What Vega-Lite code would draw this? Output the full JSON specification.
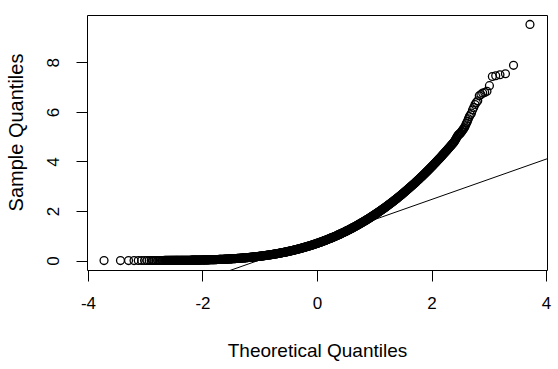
{
"$schema": "https://vega.github.io/schema/vega-lite/v6.json",
"width": 460, "height": 255,
"autosize": {"type": "none"},
"padding": {"left": 87, "top": 15, "right": 11, "bottom": 99},
"background": "white",
"config": {"view": {"stroke": "black", "strokeWidth": 1}, "font": "Liberation Sans"},
"datasets": {
"qq": [
{"theoretical":-3.719,"sample":0.0002},{"theoretical":-3.432,"sample":0.0004},{"theoretical":-3.291,"sample":0.0006},{"theoretical":-3.195,"sample":0.0008},{"theoretical":-3.121,"sample":0.001},{"theoretical":-3.062,"sample":0.0012},{"theoretical":-3.011,"sample":0.0014},{"theoretical":-2.968,"sample":0.0016},{"theoretical":-2.929,"sample":0.0018},{"theoretical":-2.894,"sample":0.002},
{"theoretical":-2.863,"sample":0.0022},{"theoretical":-2.834,"sample":0.0024},{"theoretical":-2.807,"sample":0.0026},{"theoretical":-2.782,"sample":0.0028},{"theoretical":-2.759,"sample":0.003},{"theoretical":-2.737,"sample":0.0032},{"theoretical":-2.716,"sample":0.0034},{"theoretical":-2.697,"sample":0.0036},{"theoretical":-2.678,"sample":0.0038},{"theoretical":-2.661,"sample":0.004},
{"theoretical":-2.644,"sample":0.0042},{"theoretical":-2.628,"sample":0.0044},{"theoretical":-2.612,"sample":0.0046},{"theoretical":-2.598,"sample":0.0048},{"theoretical":-2.583,"sample":0.005},{"theoretical":-2.569,"sample":0.0052},{"theoretical":-2.556,"sample":0.0054},{"theoretical":-2.543,"sample":0.0056},{"theoretical":-2.531,"sample":0.0058},{"theoretical":-2.519,"sample":0.006},
{"theoretical":-2.507,"sample":0.0062},{"theoretical":-2.496,"sample":0.0064},{"theoretical":-2.484,"sample":0.0066},{"theoretical":-2.473,"sample":0.0068},{"theoretical":-2.463,"sample":0.007},{"theoretical":-2.453,"sample":0.0072},{"theoretical":-2.443,"sample":0.0074},{"theoretical":-2.432,"sample":0.0076},{"theoretical":-2.423,"sample":0.0078},{"theoretical":-2.413,"sample":0.008},
{"theoretical":-2.40,"sample":0.0082},{"theoretical":-2.38,"sample":0.0087},{"theoretical":-2.36,"sample":0.0092},{"theoretical":-2.34,"sample":0.0097},{"theoretical":-2.32,"sample":0.0102},{"theoretical":-2.30,"sample":0.0108},{"theoretical":-2.28,"sample":0.0114},{"theoretical":-2.26,"sample":0.012},{"theoretical":-2.24,"sample":0.0126},{"theoretical":-2.22,"sample":0.0133},
{"theoretical":-2.20,"sample":0.014},{"theoretical":-2.18,"sample":0.0147},{"theoretical":-2.16,"sample":0.0155},{"theoretical":-2.14,"sample":0.0163},{"theoretical":-2.12,"sample":0.0171},{"theoretical":-2.10,"sample":0.018},{"theoretical":-2.08,"sample":0.0189},{"theoretical":-2.06,"sample":0.0199},{"theoretical":-2.04,"sample":0.0209},{"theoretical":-2.02,"sample":0.0219},
{"theoretical":-2.00,"sample":0.023},{"theoretical":-1.98,"sample":0.0242},{"theoretical":-1.96,"sample":0.0253},{"theoretical":-1.94,"sample":0.0265},{"theoretical":-1.92,"sample":0.0278},{"theoretical":-1.90,"sample":0.0291},{"theoretical":-1.88,"sample":0.0306},{"theoretical":-1.86,"sample":0.0319},{"theoretical":-1.84,"sample":0.0335},{"theoretical":-1.82,"sample":0.035},
{"theoretical":-1.80,"sample":0.0366},{"theoretical":-1.78,"sample":0.0382},{"theoretical":-1.76,"sample":0.04},{"theoretical":-1.74,"sample":0.0418},{"theoretical":-1.72,"sample":0.0436},{"theoretical":-1.70,"sample":0.0456},{"theoretical":-1.68,"sample":0.0476},{"theoretical":-1.66,"sample":0.0497},{"theoretical":-1.64,"sample":0.0518},{"theoretical":-1.62,"sample":0.054},
{"theoretical":-1.60,"sample":0.0564},{"theoretical":-1.58,"sample":0.0588},{"theoretical":-1.56,"sample":0.0612},{"theoretical":-1.54,"sample":0.0638},{"theoretical":-1.52,"sample":0.0664},{"theoretical":-1.50,"sample":0.0691},{"theoretical":-1.48,"sample":0.0719},{"theoretical":-1.46,"sample":0.0748},{"theoretical":-1.44,"sample":0.0779},{"theoretical":-1.42,"sample":0.081},
{"theoretical":-1.40,"sample":0.0843},{"theoretical":-1.38,"sample":0.0875},{"theoretical":-1.36,"sample":0.0909},{"theoretical":-1.34,"sample":0.0944},{"theoretical":-1.32,"sample":0.0981},{"theoretical":-1.30,"sample":0.1018},{"theoretical":-1.28,"sample":0.1057},{"theoretical":-1.26,"sample":0.1096},{"theoretical":-1.24,"sample":0.1137},{"theoretical":-1.22,"sample":0.1179},
{"theoretical":-1.20,"sample":0.1223},{"theoretical":-1.18,"sample":0.1268},{"theoretical":-1.16,"sample":0.1313},{"theoretical":-1.14,"sample":0.1359},{"theoretical":-1.12,"sample":0.1409},{"theoretical":-1.10,"sample":0.1458},{"theoretical":-1.08,"sample":0.1509},{"theoretical":-1.06,"sample":0.1562},{"theoretical":-1.04,"sample":0.1616},{"theoretical":-1.02,"sample":0.1671},
{"theoretical":-1.00,"sample":0.1728},{"theoretical":-0.98,"sample":0.1785},{"theoretical":-0.96,"sample":0.1845},{"theoretical":-0.94,"sample":0.1906},{"theoretical":-0.92,"sample":0.197},{"theoretical":-0.90,"sample":0.2035},{"theoretical":-0.88,"sample":0.21},{"theoretical":-0.86,"sample":0.2168},{"theoretical":-0.84,"sample":0.2238},{"theoretical":-0.82,"sample":0.2307},
{"theoretical":-0.80,"sample":0.238},{"theoretical":-0.78,"sample":0.2454},{"theoretical":-0.76,"sample":0.253},{"theoretical":-0.74,"sample":0.2608},{"theoretical":-0.72,"sample":0.2689},{"theoretical":-0.70,"sample":0.2771},{"theoretical":-0.68,"sample":0.2854},{"theoretical":-0.66,"sample":0.2938},{"theoretical":-0.64,"sample":0.3026},{"theoretical":-0.62,"sample":0.3114},
{"theoretical":-0.60,"sample":0.3206},{"theoretical":-0.58,"sample":0.3299},{"theoretical":-0.56,"sample":0.3392},{"theoretical":-0.54,"sample":0.349},{"theoretical":-0.52,"sample":0.3588},{"theoretical":-0.50,"sample":0.3689},{"theoretical":-0.48,"sample":0.3792},{"theoretical":-0.46,"sample":0.3898},{"theoretical":-0.44,"sample":0.4005},{"theoretical":-0.42,"sample":0.4113},
{"theoretical":-0.40,"sample":0.4225},{"theoretical":-0.38,"sample":0.4339},{"theoretical":-0.36,"sample":0.4453},{"theoretical":-0.34,"sample":0.4571},{"theoretical":-0.32,"sample":0.4692},{"theoretical":-0.30,"sample":0.4814},{"theoretical":-0.28,"sample":0.4938},{"theoretical":-0.26,"sample":0.5065},{"theoretical":-0.24,"sample":0.5195},{"theoretical":-0.22,"sample":0.5325},
{"theoretical":-0.20,"sample":0.5459},{"theoretical":-0.18,"sample":0.5596},{"theoretical":-0.16,"sample":0.5734},{"theoretical":-0.14,"sample":0.5875},{"theoretical":-0.12,"sample":0.6018},{"theoretical":-0.10,"sample":0.6166},{"theoretical":-0.08,"sample":0.6313},{"theoretical":-0.06,"sample":0.6464},{"theoretical":-0.04,"sample":0.6616},{"theoretical":-0.02,"sample":0.6773},
{"theoretical":0.00,"sample":0.6931},
{"theoretical":0.02,"sample":0.7093},{"theoretical":0.04,"sample":0.7257},{"theoretical":0.06,"sample":0.7421},{"theoretical":0.08,"sample":0.759},{"theoretical":0.10,"sample":0.7761},{"theoretical":0.12,"sample":0.7936},{"theoretical":0.14,"sample":0.8112},{"theoretical":0.16,"sample":0.8292},{"theoretical":0.18,"sample":0.8472},{"theoretical":0.20,"sample":0.8658},
{"theoretical":0.22,"sample":0.8845},{"theoretical":0.24,"sample":0.9033},{"theoretical":0.26,"sample":0.9228},{"theoretical":0.28,"sample":0.9423},{"theoretical":0.30,"sample":0.9621},{"theoretical":0.32,"sample":0.9822},{"theoretical":0.34,"sample":1.0027},{"theoretical":0.36,"sample":1.0233},{"theoretical":0.38,"sample":1.0441},{"theoretical":0.40,"sample":1.0654},
{"theoretical":0.42,"sample":1.0871},{"theoretical":0.44,"sample":1.1087},{"theoretical":0.46,"sample":1.1308},{"theoretical":0.48,"sample":1.1533},{"theoretical":0.50,"sample":1.1761},{"theoretical":0.52,"sample":1.199},{"theoretical":0.54,"sample":1.2222},{"theoretical":0.56,"sample":1.2459},{"theoretical":0.58,"sample":1.2694},{"theoretical":0.60,"sample":1.2935},
{"theoretical":0.62,"sample":1.3183},{"theoretical":0.64,"sample":1.3429},{"theoretical":0.66,"sample":1.3681},{"theoretical":0.68,"sample":1.3932},{"theoretical":0.70,"sample":1.4188},{"theoretical":0.72,"sample":1.4448},{"theoretical":0.74,"sample":1.4714},{"theoretical":0.76,"sample":1.4979},{"theoretical":0.78,"sample":1.5246},{"theoretical":0.80,"sample":1.5516},
{"theoretical":0.82,"sample":1.5794},{"theoretical":0.84,"sample":1.6069},{"theoretical":0.86,"sample":1.6353},{"theoretical":0.88,"sample":1.6639},{"theoretical":0.90,"sample":1.6923},{"theoretical":0.92,"sample":1.7215},{"theoretical":0.94,"sample":1.751},{"theoretical":0.96,"sample":1.7808},{"theoretical":0.98,"sample":1.8109},{"theoretical":1.00,"sample":1.8407},
{"theoretical":1.02,"sample":1.8714},{"theoretical":1.04,"sample":1.9024},{"theoretical":1.06,"sample":1.9337},{"theoretical":1.08,"sample":1.9653},{"theoretical":1.10,"sample":1.9973},{"theoretical":1.12,"sample":2.0295},{"theoretical":1.14,"sample":2.0627},{"theoretical":1.16,"sample":2.0956},{"theoretical":1.18,"sample":2.1286},{"theoretical":1.20,"sample":2.1619},
{"theoretical":1.22,"sample":2.1964},{"theoretical":1.24,"sample":2.2302},{"theoretical":1.26,"sample":2.2653},{"theoretical":1.28,"sample":2.2996},{"theoretical":1.30,"sample":2.3351},{"theoretical":1.32,"sample":2.3708},{"theoretical":1.34,"sample":2.4068},{"theoretical":1.36,"sample":2.443},{"theoretical":1.38,"sample":2.4793},{"theoretical":1.40,"sample":2.5158},
{"theoretical":1.42,"sample":2.5536},{"theoretical":1.44,"sample":2.5916},{"theoretical":1.46,"sample":2.6297},{"theoretical":1.48,"sample":2.6679},{"theoretical":1.50,"sample":2.706},{"theoretical":1.52,"sample":2.7442},{"theoretical":1.54,"sample":2.7838},{"theoretical":1.56,"sample":2.8234},{"theoretical":1.58,"sample":2.8629},{"theoretical":1.60,"sample":2.904},
{"theoretical":1.62,"sample":2.945},{"theoretical":1.64,"sample":2.9857},{"theoretical":1.66,"sample":3.0262},{"theoretical":1.68,"sample":3.0683},{"theoretical":1.70,"sample":3.11},{"theoretical":1.72,"sample":3.1535},{"theoretical":1.74,"sample":3.1966},{"theoretical":1.76,"sample":3.239},{"theoretical":1.78,"sample":3.2834},{"theoretical":1.80,"sample":3.327},
{"theoretical":1.82,"sample":3.3697},{"theoretical":1.84,"sample":3.4143},{"theoretical":1.86,"sample":3.4609},{"theoretical":1.88,"sample":3.5032},{"theoretical":1.90,"sample":3.5508},{"theoretical":1.92,"sample":3.5972},{"theoretical":1.94,"sample":3.642},{"theoretical":1.96,"sample":3.6889},{"theoretical":1.98,"sample":3.7339},{"theoretical":2.00,"sample":3.7832},
{"theoretical":2.02,"sample":3.831},{"theoretical":2.04,"sample":3.8786},{"theoretical":2.06,"sample":3.9272},{"theoretical":2.08,"sample":3.9761},{"theoretical":2.10,"sample":4.0252},{"theoretical":2.12,"sample":4.0745},{"theoretical":2.14,"sample":4.124},{"theoretical":2.16,"sample":4.174},{"theoretical":2.18,"sample":4.2247},{"theoretical":2.20,"sample":4.2759},
{"theoretical":2.22,"sample":4.3268},{"theoretical":2.24,"sample":4.378},{"theoretical":2.26,"sample":4.4304},{"theoretical":2.28,"sample":4.483},{"theoretical":2.30,"sample":4.5357},{"theoretical":2.32,"sample":4.5884},{"theoretical":2.34,"sample":4.6419},{"theoretical":2.36,"sample":4.6951},{"theoretical":2.38,"sample":4.7491},{"theoretical":2.40,"sample":4.8037},
{"theoretical":2.413,"sample":4.86},{"theoretical":2.423,"sample":4.9},{"theoretical":2.432,"sample":4.94},{"theoretical":2.443,"sample":4.98},{"theoretical":2.453,"sample":5.02},{"theoretical":2.463,"sample":5.06},{"theoretical":2.473,"sample":5.08},{"theoretical":2.484,"sample":5.1},{"theoretical":2.496,"sample":5.12},{"theoretical":2.507,"sample":5.15},
{"theoretical":2.519,"sample":5.19},{"theoretical":2.531,"sample":5.22},{"theoretical":2.543,"sample":5.27},{"theoretical":2.556,"sample":5.3},{"theoretical":2.569,"sample":5.35},{"theoretical":2.583,"sample":5.4},{"theoretical":2.598,"sample":5.48},{"theoretical":2.612,"sample":5.55},{"theoretical":2.628,"sample":5.62},{"theoretical":2.644,"sample":5.72},
{"theoretical":2.661,"sample":5.81},{"theoretical":2.678,"sample":5.88},{"theoretical":2.697,"sample":5.95},{"theoretical":2.716,"sample":6.08},{"theoretical":2.737,"sample":6.18},{"theoretical":2.759,"sample":6.3},{"theoretical":2.782,"sample":6.38},{"theoretical":2.807,"sample":6.45},{"theoretical":2.834,"sample":6.65},{"theoretical":2.863,"sample":6.7},
{"theoretical":2.894,"sample":6.76},{"theoretical":2.929,"sample":6.78},{"theoretical":2.968,"sample":6.83},{"theoretical":3.011,"sample":7.06},{"theoretical":3.062,"sample":7.43},{"theoretical":3.121,"sample":7.46},{"theoretical":3.195,"sample":7.5},{"theoretical":3.291,"sample":7.54},{"theoretical":3.432,"sample":7.88},{"theoretical":3.719,"sample":9.53},
{"theoretical":0.01,"sample":0.7012},{"theoretical":0.03,"sample":0.7174},{"theoretical":0.05,"sample":0.7337},{"theoretical":0.07,"sample":0.7505},{"theoretical":0.09,"sample":0.7676},{"theoretical":0.11,"sample":0.7848},{"theoretical":0.13,"sample":0.8022},{"theoretical":0.15,"sample":0.82},{"theoretical":0.17,"sample":0.8381},{"theoretical":0.19,"sample":0.8563},
{"theoretical":0.21,"sample":0.8751},{"theoretical":0.23,"sample":0.894},{"theoretical":0.25,"sample":0.913},{"theoretical":0.27,"sample":0.9324},{"theoretical":0.29,"sample":0.9521},{"theoretical":0.31,"sample":0.9721},{"theoretical":0.33,"sample":0.9924},{"theoretical":0.35,"sample":1.0128},{"theoretical":0.37,"sample":1.0337},{"theoretical":0.39,"sample":1.0547},
{"theoretical":0.41,"sample":1.0762},{"theoretical":0.43,"sample":1.0978},{"theoretical":0.45,"sample":1.1197},{"theoretical":0.47,"sample":1.1419},{"theoretical":0.49,"sample":1.1645},{"theoretical":0.51,"sample":1.1875},{"theoretical":0.53,"sample":1.2104},{"theoretical":0.55,"sample":1.2338},{"theoretical":0.57,"sample":1.2578},{"theoretical":0.59,"sample":1.2816},
{"theoretical":0.61,"sample":1.306},{"theoretical":0.63,"sample":1.3307},{"theoretical":0.65,"sample":1.3556},{"theoretical":0.67,"sample":1.3807},{"theoretical":0.69,"sample":1.4061},{"theoretical":0.71,"sample":1.4317},{"theoretical":0.73,"sample":1.458},{"theoretical":0.75,"sample":1.4846},{"theoretical":0.77,"sample":1.5114},{"theoretical":0.79,"sample":1.538},
{"theoretical":0.81,"sample":1.5654},{"theoretical":0.83,"sample":1.593},{"theoretical":0.85,"sample":1.621},{"theoretical":0.87,"sample":1.6492},{"theoretical":0.89,"sample":1.6782},{"theoretical":0.91,"sample":1.7071},{"theoretical":0.93,"sample":1.7361},{"theoretical":0.95,"sample":1.7655},{"theoretical":0.97,"sample":1.7958},{"theoretical":0.99,"sample":1.8258},
{"theoretical":1.01,"sample":1.8566},{"theoretical":1.03,"sample":1.8872},{"theoretical":1.05,"sample":1.918},{"theoretical":1.07,"sample":1.9498},{"theoretical":1.09,"sample":1.9812},{"theoretical":1.11,"sample":2.0136},{"theoretical":1.13,"sample":2.0464},{"theoretical":1.15,"sample":2.0786},{"theoretical":1.17,"sample":2.112},{"theoretical":1.19,"sample":2.1456},
{"theoretical":1.21,"sample":2.1795},{"theoretical":1.23,"sample":2.2137},{"theoretical":1.25,"sample":2.2481},{"theoretical":1.27,"sample":2.2828},{"theoretical":1.29,"sample":2.3177},{"theoretical":1.31,"sample":2.3528},{"theoretical":1.33,"sample":2.3882},{"theoretical":1.35,"sample":2.4248},{"theoretical":1.37,"sample":2.4616},{"theoretical":1.39,"sample":2.4974},
{"theoretical":1.41,"sample":2.5345},{"theoretical":1.43,"sample":2.5718},{"theoretical":1.45,"sample":2.6105},{"theoretical":1.47,"sample":2.6479},{"theoretical":1.49,"sample":2.6868},{"theoretical":1.51,"sample":2.7257},{"theoretical":1.53,"sample":2.7646},{"theoretical":1.55,"sample":2.8035},{"theoretical":1.57,"sample":2.8439},{"theoretical":1.59,"sample":2.8842},
{"theoretical":1.61,"sample":2.9244},{"theoretical":1.63,"sample":2.9643},{"theoretical":1.65,"sample":3.0058},{"theoretical":1.67,"sample":3.047},{"theoretical":1.69,"sample":3.09},{"theoretical":1.71,"sample":3.1327},{"theoretical":1.73,"sample":3.1749},{"theoretical":1.75,"sample":3.2164},{"theoretical":1.77,"sample":3.2597},{"theoretical":1.79,"sample":3.305},
{"theoretical":1.81,"sample":3.3496},{"theoretical":1.83,"sample":3.3932},{"theoretical":1.85,"sample":3.4358},{"theoretical":1.87,"sample":3.4835},{"theoretical":1.89,"sample":3.5268},{"theoretical":1.91,"sample":3.572},{"theoretical":1.93,"sample":3.6194},{"theoretical":1.95,"sample":3.6652},{"theoretical":1.97,"sample":3.7132},{"theoretical":1.99,"sample":3.7593},
{"theoretical":2.01,"sample":3.8067},{"theoretical":2.03,"sample":3.8546},{"theoretical":2.05,"sample":3.903},{"theoretical":2.07,"sample":3.9512},{"theoretical":2.09,"sample":4.0003},{"theoretical":2.11,"sample":4.0496},{"theoretical":2.13,"sample":4.099},{"theoretical":2.15,"sample":4.149},{"theoretical":2.17,"sample":4.1997},{"theoretical":2.19,"sample":4.2503},
{"theoretical":2.21,"sample":4.3014},{"theoretical":2.23,"sample":4.3529},{"theoretical":2.25,"sample":4.4047},{"theoretical":2.27,"sample":4.4568},{"theoretical":2.29,"sample":4.509},{"theoretical":2.31,"sample":4.5621},{"theoretical":2.33,"sample":4.6152},{"theoretical":2.35,"sample":4.6681},{"theoretical":2.37,"sample":4.7228},{"theoretical":2.39,"sample":4.7772},
{"theoretical":-0.01,"sample":0.6852},{"theoretical":-0.03,"sample":0.6694},{"theoretical":-0.05,"sample":0.6541},{"theoretical":-0.07,"sample":0.6388},{"theoretical":-0.09,"sample":0.6238},{"theoretical":-0.11,"sample":0.6092},{"theoretical":-0.13,"sample":0.5947},{"theoretical":-0.15,"sample":0.5805},{"theoretical":-0.17,"sample":0.5665},{"theoretical":-0.19,"sample":0.5529},
{"theoretical":-0.21,"sample":0.5392},{"theoretical":-0.23,"sample":0.5259},{"theoretical":-0.25,"sample":0.513},{"theoretical":-0.27,"sample":0.5002},{"theoretical":-0.29,"sample":0.4876},{"theoretical":-0.31,"sample":0.4753},{"theoretical":-0.33,"sample":0.4632},{"theoretical":-0.35,"sample":0.4513},{"theoretical":-0.37,"sample":0.4396},{"theoretical":-0.39,"sample":0.4282},
{"theoretical":-0.41,"sample":0.4169},{"theoretical":-0.43,"sample":0.4059},{"theoretical":-0.45,"sample":0.3951},{"theoretical":-0.47,"sample":0.3845},{"theoretical":-0.49,"sample":0.3741},{"theoretical":-0.51,"sample":0.3639},{"theoretical":-0.53,"sample":0.354},{"theoretical":-0.55,"sample":0.3442},{"theoretical":-0.57,"sample":0.3345},{"theoretical":-0.59,"sample":0.3252},
{"theoretical":-0.61,"sample":0.316},{"theoretical":-0.63,"sample":0.307},{"theoretical":-0.65,"sample":0.2982},{"theoretical":-0.67,"sample":0.2896},{"theoretical":-0.69,"sample":0.2812},{"theoretical":-0.71,"sample":0.273},{"theoretical":-0.73,"sample":0.2649},{"theoretical":-0.75,"sample":0.257},{"theoretical":-0.77,"sample":0.2493},{"theoretical":-0.79,"sample":0.2418},
{"theoretical":-0.81,"sample":0.2345},{"theoretical":-0.83,"sample":0.2273},{"theoretical":-0.85,"sample":0.2203},{"theoretical":-0.87,"sample":0.2134},{"theoretical":-0.89,"sample":0.2066},{"theoretical":-0.91,"sample":0.2002},{"theoretical":-0.93,"sample":0.1938},{"theoretical":-0.95,"sample":0.1876},{"theoretical":-0.97,"sample":0.1815},{"theoretical":-0.99,"sample":0.1757},
{"theoretical":-1.01,"sample":0.1698},{"theoretical":-1.03,"sample":0.1643},{"theoretical":-1.05,"sample":0.1589},{"theoretical":-1.07,"sample":0.1535},{"theoretical":-1.09,"sample":0.1484},{"theoretical":-1.11,"sample":0.1433},{"theoretical":-1.13,"sample":0.1383},{"theoretical":-1.15,"sample":0.1336},{"theoretical":-1.17,"sample":0.129},{"theoretical":-1.19,"sample":0.1244},
{"theoretical":-1.21,"sample":0.12},{"theoretical":-1.23,"sample":0.1158},{"theoretical":-1.25,"sample":0.1116},{"theoretical":-1.27,"sample":0.1076},{"theoretical":-1.29,"sample":0.1037},{"theoretical":-1.31,"sample":0.0999},{"theoretical":-1.33,"sample":0.0963},{"theoretical":-1.35,"sample":0.0927},{"theoretical":-1.37,"sample":0.0892},{"theoretical":-1.39,"sample":0.0859},
{"theoretical":-1.41,"sample":0.0826},{"theoretical":-1.43,"sample":0.0795},{"theoretical":-1.45,"sample":0.0763},{"theoretical":-1.47,"sample":0.0734},{"theoretical":-1.49,"sample":0.0705},{"theoretical":-1.51,"sample":0.0677},{"theoretical":-1.53,"sample":0.0651},{"theoretical":-1.55,"sample":0.0625},{"theoretical":-1.57,"sample":0.06},{"theoretical":-1.59,"sample":0.0575},
{"theoretical":-1.61,"sample":0.0552},{"theoretical":-1.63,"sample":0.053},{"theoretical":-1.65,"sample":0.0508},{"theoretical":-1.67,"sample":0.0487},{"theoretical":-1.69,"sample":0.0466},{"theoretical":-1.71,"sample":0.0446},{"theoretical":-1.73,"sample":0.0427},{"theoretical":-1.75,"sample":0.0409},{"theoretical":-1.77,"sample":0.0392},{"theoretical":-1.79,"sample":0.0374},
{"theoretical":-1.81,"sample":0.0357},{"theoretical":-1.83,"sample":0.0342},{"theoretical":-1.85,"sample":0.0327},{"theoretical":-1.87,"sample":0.0312},{"theoretical":-1.89,"sample":0.0298},{"theoretical":-1.91,"sample":0.0285},{"theoretical":-1.93,"sample":0.0272},{"theoretical":-1.95,"sample":0.0259},{"theoretical":-1.97,"sample":0.0247},{"theoretical":-1.99,"sample":0.0236},
{"theoretical":-2.01,"sample":0.0225},{"theoretical":-2.03,"sample":0.0214},{"theoretical":-2.05,"sample":0.0204},{"theoretical":-2.07,"sample":0.0194},{"theoretical":-2.09,"sample":0.0185},{"theoretical":-2.11,"sample":0.0176},{"theoretical":-2.13,"sample":0.0167},{"theoretical":-2.15,"sample":0.0159},{"theoretical":-2.17,"sample":0.0151},{"theoretical":-2.19,"sample":0.0144},
{"theoretical":-2.21,"sample":0.0136},{"theoretical":-2.23,"sample":0.013},{"theoretical":-2.25,"sample":0.0123},{"theoretical":-2.27,"sample":0.0117},{"theoretical":-2.29,"sample":0.0111},{"theoretical":-2.31,"sample":0.0105},{"theoretical":-2.33,"sample":0.01},{"theoretical":-2.35,"sample":0.0094},{"theoretical":-2.37,"sample":0.0089},{"theoretical":-2.39,"sample":0.0085}
],
"qqline": [
{"theoretical":-4.0165,"sample":-2.432},{"theoretical":4.0165,"sample":4.106}
]
},
"layer": [
{
"data": {"name": "qq"},
"mark": {"type": "point", "shape": "circle", "filled": false, "stroke": "black", "strokeWidth": 1.3, "size": 62, "opacity": 1, "strokeOpacity": 1, "clip": true},
"encoding": {
"x": {"field": "theoretical", "type": "quantitative",
"scale": {"domain": [-4.0165, 4.0165], "nice": false, "zero": false},
"axis": {"title": "Theoretical Quantiles", "values": [-4, -2, 0, 2, 4], "labelExpr": "'' + datum.value", "grid": false, "domain": false,
"tickSize": 11, "tickColor": "black", "tickWidth": 1,
"labelFont": "Liberation Sans", "labelFontSize": 17, "labelColor": "black", "labelPadding": 27, "labelBaseline": "alphabetic", "labelFlush": false, "labelOverlap": false,
"titleFont": "Liberation Sans", "titleFontSize": 19, "titleFontWeight": "normal", "titleColor": "black", "titleBaseline": "alphabetic", "titleY": 86}},
"y": {"field": "sample", "type": "quantitative",
"scale": {"domain": [-0.381, 9.911], "nice": false, "zero": false},
"axis": {"title": "Sample Quantiles", "values": [0, 2, 4, 6, 8], "labelExpr": "'' + datum.value", "grid": false, "domain": false,
"tickSize": 11, "tickColor": "black", "tickWidth": 1,
"labelFont": "Liberation Sans", "labelFontSize": 17, "labelColor": "black", "labelAngle": -90, "labelAlign": "center", "labelBaseline": "alphabetic", "labelPadding": 18, "labelFlush": false, "labelOverlap": false,
"titleFont": "Liberation Sans", "titleFontSize": 20, "titleFontWeight": "normal", "titleColor": "black", "titleAngle": -90, "titleAlign": "center", "titleBaseline": "alphabetic", "titleX": -65, "titleY": 117}}
}
},
{
"data": {"name": "qqline"},
"mark": {"type": "line", "color": "black", "strokeWidth": 1, "clip": true},
"encoding": {
"x": {"field": "theoretical", "type": "quantitative"},
"y": {"field": "sample", "type": "quantitative"}
}
}
]
}
